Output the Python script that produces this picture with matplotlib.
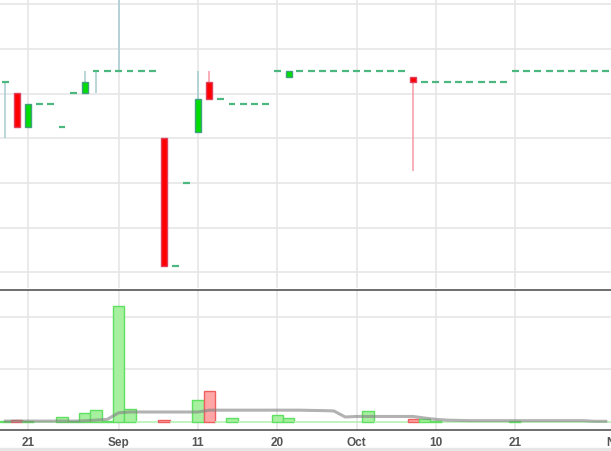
import numpy as np
import matplotlib
matplotlib.use("Agg")
import matplotlib.pyplot as plt
from matplotlib.patches import Rectangle

# -----------------------------------------------------------
# data (one entry per bar)
# -----------------------------------------------------------
opens = [42.5, 40.1, 32.5, 37.6, 37.6, 32.5, 40.1, 40.1, 45.1, 45.1,
         45.1, 45.1, 45.1, 45.1, 30.0, 1.4, 20.1, 31.3, 42.5, 38.7,
         37.6, 37.6, 37.6, 37.6, 45.1, 43.7, 45.1, 45.1, 45.1, 45.1,
         45.1, 45.1, 45.1, 45.1, 45.1, 45.1, 43.7, 42.5, 42.5, 42.5,
         42.5, 42.5, 42.5, 42.5, 42.5, 45.1, 45.1, 45.1, 45.1, 45.1,
         45.1, 45.1, 45.1, 45.1]
highs = [42.5, 40.1, 37.6, 37.6, 37.6, 32.5, 40.1, 45.1, 45.1, 45.1,
         66.0, 45.1, 45.1, 45.1, 30.0, 1.4, 20.1, 45.1, 45.1, 38.7,
         37.6, 37.6, 37.6, 37.6, 45.1, 45.1, 45.1, 45.1, 45.1, 45.1,
         45.1, 45.1, 45.1, 45.1, 45.1, 45.1, 43.7, 42.5, 42.5, 42.5,
         42.5, 42.5, 42.5, 42.5, 42.5, 45.1, 45.1, 45.1, 45.1, 45.1,
         45.1, 45.1, 45.1, 45.1]
lows = [30.1, 32.5, 32.5, 37.6, 37.6, 32.5, 40.1, 40.1, 40.1, 45.1,
        45.1, 45.1, 45.1, 45.1, 1.4, 1.4, 20.1, 31.3, 38.7, 38.7,
        37.6, 37.6, 37.6, 37.6, 45.1, 43.7, 45.1, 45.1, 45.1, 45.1,
        45.1, 45.1, 45.1, 45.1, 45.1, 45.1, 22.7, 42.5, 42.5, 42.5,
        42.5, 42.5, 42.5, 42.5, 42.5, 45.1, 45.1, 45.1, 45.1, 45.1,
        45.1, 45.1, 45.1, 45.1]
closes = [42.5, 32.5, 37.6, 37.6, 37.6, 32.5, 40.1, 42.5, 45.1, 45.1,
          45.1, 45.1, 45.1, 45.1, 1.4, 1.4, 20.1, 38.7, 38.7, 38.7,
          37.6, 37.6, 37.6, 37.6, 45.1, 45.1, 45.1, 45.1, 45.1, 45.1,
          45.1, 45.1, 45.1, 45.1, 45.1, 45.1, 42.5, 42.5, 42.5, 42.5,
          42.5, 42.5, 42.5, 42.5, 42.5, 45.1, 45.1, 45.1, 45.1, 45.1,
          45.1, 45.1, 45.1, 45.1]
volumes = [0.008, 0.025, 0.008, 0, 0, 0.09, 0.005, 0.165, 0.22, 0.005,
           2.2, 0.235, 0, 0, 0.03, 0, 0, 0.41, 0.585, 0,
           0.07, 0, 0, 0, 0.127, 0.07, 0, 0, 0, 0,
           0, 0, 0.196, 0, 0, 0, 0.045, 0.045, 0.02, 0,
           0, 0, 0, 0, 0, 0.008, 0, 0, 0, 0,
           0, 0, 0, 0]
vol_ma = [0.012, 0.012, 0.012, 0.012, 0.012, 0.012, 0.012, 0.018, 0.03, 0.045,
          0.17, 0.185, 0.185, 0.185, 0.185, 0.185, 0.185, 0.185, 0.22, 0.22,
          0.22, 0.22, 0.22, 0.22, 0.22, 0.22, 0.22, 0.215, 0.212, 0.205,
          0.09, 0.1, 0.1, 0.1, 0.1, 0.1, 0.1, 0.07, 0.045, 0.03,
          0.025, 0.02, 0.02, 0.02, 0.02, 0.02, 0.02, 0.02, 0.02, 0.02,
          0.02, 0.02, 0.008, 0.008]

tick_bars = [2, 10, 17, 24, 31, 38, 45, 54]
tick_labels = ["21", "Sep", "11", "20", "Oct", "10", "21", "Nov"]

# -----------------------------------------------------------
# styles
# -----------------------------------------------------------
UP_BODY, UP_EDGE, UP_WICK = "#00dd00", "#3f9f80", "#a6cdd0"
DN_BODY, DN_EDGE, DN_WICK = "#ff0000", "#e0405c", "#f59aa6"
FLAT = "#4cb880"
GRID = "#e6e6e6"
LABEL_FONT = dict(family="Liberation Sans", weight="bold", size=8.5, color="#555555")

W, H = 611, 451
fig = plt.figure(figsize=(W / 100, H / 100), dpi=100)

x = np.arange(len(opens))
xlim = (-0.468, 53.46)
vis_ticks = [t for t in tick_bars if xlim[0] <= t <= xlim[1]]

# -----------------------------------------------------------
# price panel
# -----------------------------------------------------------
ax = fig.add_axes([0, (H - 288) / H, 1, 288 / H])
for s in ax.spines.values():
    s.set_visible(False)
ax.set_yticks(np.arange(0, 61, 10))
ax.set_xticks(vis_ticks)
ax.tick_params(length=0, labelleft=False, labelbottom=False)
ax.grid(True, color=GRID, lw=1.2)
ax.set_axisbelow(True)

for i in x:
    o, h, l, c = opens[i], highs[i], lows[i], closes[i]
    down = c < o
    wick = DN_WICK if down else UP_WICK
    if h > l:
        ax.vlines(i, l, h, color=wick, lw=1.1, zorder=2)
    if o == c:
        ax.hlines(o, i - 0.3, i + 0.3, color=FLAT, lw=1.6, zorder=3)
    else:
        ax.bar(i, abs(c - o), bottom=min(o, c), width=0.53,
               color=DN_BODY if down else UP_BODY,
               edgecolor=DN_EDGE if down else UP_EDGE, lw=1, zorder=3)

ax.set_xlim(*xlim)
ax.set_ylim(-3.51, 60.96)

# -----------------------------------------------------------
# volume panel
# -----------------------------------------------------------
axv = fig.add_axes([0, (H - 430) / H, 1, 140 / H])
for side in ["left", "right"]:
    axv.spines[side].set_visible(False)
for side in ["top", "bottom"]:
    axv.spines[side].set_color("#555555")
    axv.spines[side].set_linewidth(1.2)
axv.set_yticks([1, 2])
axv.set_xticks(vis_ticks)
axv.tick_params(length=0, labelleft=False, labelbottom=False)
axv.grid(True, color=GRID, lw=1.2)
axv.set_axisbelow(True)

for i in x:
    down = closes[i] < opens[i]
    if volumes[i] > 0:
        axv.bar(i, volumes[i], width=1.0,
                color="#ffa6a6" if down else "#a6f0a0",
                edgecolor="#ee6060" if down else "#60e060", lw=1, zorder=2)
    else:
        axv.hlines(0, i - 0.5, i + 0.5, color="#b8f0b8", lw=1.2, zorder=2)

axv.plot(x, vol_ma, color="#808080", alpha=0.6, lw=2.2, zorder=4)

axv.set_xlim(*xlim)
axv.set_ylim(-0.158, 2.509)

# date labels (last one sits past the right edge and gets cut, like the original)
for t, lab in zip(tick_bars, tick_labels):
    axv.annotate(lab, xy=(t, 0), xycoords=axv.get_xaxis_transform(),
                 xytext=(0, -5), textcoords="offset points",
                 ha="center", va="top", annotation_clip=False, **LABEL_FONT)

# thin scrollbar strip at the very bottom
fig.patches.append(Rectangle((0, 0), 1, 3 / H, transform=fig.transFigure,
                             color="#e6e6e6", zorder=0))

fig.savefig("out.png", dpi=100)
